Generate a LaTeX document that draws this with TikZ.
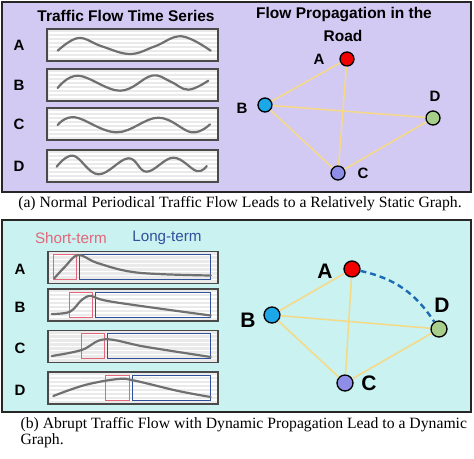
\documentclass[tikz,border=0pt]{standalone}
\usepackage{fontspec}
\setmainfont{Liberation Serif}
\setsansfont{Liberation Sans}
\usetikzlibrary{calc}
\definecolor{lav}{HTML}{D3CAF4}
\definecolor{aqua}{HTML}{CAF2F0}
\definecolor{frame}{HTML}{262626}
\definecolor{boxline}{HTML}{4A4A4A}
\definecolor{curve}{HTML}{707070}
\definecolor{stripe}{HTML}{EAEAEA}
\definecolor{edgey}{HTML}{F6D985}
\definecolor{nodeA}{HTML}{F20000}
\definecolor{nodeB}{HTML}{1CA7E8}
\definecolor{nodeC}{HTML}{8E8EE8}
\definecolor{nodeD}{HTML}{A7CF8B}
\definecolor{shortc}{HTML}{E3667A}
\definecolor{longc}{HTML}{30509C}
\definecolor{dynb}{HTML}{1D6BB4}
\begin{document}
\begin{tikzpicture}[x=1pt,y=-1pt,font=\sffamily,
  panel/.style={draw=frame,line width=1.8pt},
  series/.style={draw=boxline,line width=1.8pt,fill=stripe},
  wave/.style={curve,line width=2.2pt,line cap=round,line join=round},
  vtx/.style={circle,draw=black,line width=1.3pt,inner sep=0pt,minimum size=#1},
  lbl/.style={font=\sffamily\bfseries\fontsize{15}{15}\selectfont},
  big/.style={font=\sffamily\bfseries\fontsize{21}{21}\selectfont},
  head/.style={font=\sffamily\bfseries\fontsize{15.5}{17}\selectfont},
  link/.style={edgey,line width=1.5pt},
  captext/.style={font=\rmfamily\fontsize{15.7}{15.5}\selectfont}]
  \useasboundingbox (0,0) rectangle (474,458);
  % (a) static graph
  \draw[panel,fill=lav] (2,2) rectangle (471,192);
  \node[head] (ttl-a) at (126,16) {Traffic Flow Time Series};
  \node[head] (ttl-b) at (344,15) {Flow Propagation in the};
  \node[head] (ttl-c) at (343,36) {Road};
  \foreach \nm/\ty in {A/29,B/69,C/108,D/150} {
    \draw[series] (47,\ty) rectangle (218,\ty+32);
    \foreach \k in {4,8,...,28} \draw[white,line width=1.9pt] (48.5,\ty+\k) -- (216.5,\ty+\k);
    \node[lbl] (sa-\nm) at (19,\ty+16) {\nm};
  }
  \draw[wave] plot[smooth,tension=0.65] coordinates {(57.7,50.7) (78.3,38) (101.7,46.3) (130,54) (155,46.3) (181.7,36.3) (210.7,50.7)};
  \draw[wave] plot[smooth,tension=0.65] coordinates {(57.7,88) (78.3,75.7) (120,90.7) (151.7,75.7) (170,81.3) (188.3,89.7) (208.3,80.7)};
  \draw[wave] plot[smooth,tension=0.65] coordinates {(57.7,125) (75,117.3) (116.7,132.3) (158.3,117.7) (191.7,132.3) (210,124.3)};
  \draw[wave] plot[smooth,tension=0.65] coordinates {(56.7,166.7) (73.3,155.7) (98.3,174.3) (128.3,158.3) (146.7,171.7) (173.3,157.7) (196.7,171) (206.7,166)};
  \node[vtx=14pt,fill=nodeA] (a-A) at (347,59) {};
  \node[vtx=14pt,fill=nodeB] (a-B) at (265,105) {};
  \node[vtx=14pt,fill=nodeC] (a-C) at (338,173) {};
  \node[vtx=14pt,fill=nodeD] (a-D) at (433,118) {};
  \draw[link] (a-A) -- (a-B);
  \draw[link] (a-A) -- (a-C);
  \draw[link] (a-B) -- (a-C);
  \draw[link] (a-B) -- (a-D);
  \draw[link] (a-C) -- (a-D);
  \node[lbl] (la-A) at (319,59) {A};
  \node[lbl] (la-B) at (242,108) {B};
  \node[lbl] (la-C) at (363,173) {C};
  \node[lbl] (la-D) at (435,96) {D};
  \node[captext,anchor=base] (cap-a) at (240,207.5) {(a) Normal Periodical Traffic Flow Leads to a Relatively Static Graph.};
  % (b) dynamic graph
  \draw[panel,fill=aqua] (2,220) rectangle (471,412);
  \node[font=\sffamily\fontsize{15.2}{16}\selectfont,text=shortc] (st) at (71,238) {Short-term};
  \node[font=\sffamily\fontsize{15.2}{16}\selectfont,text=longc] (lt) at (167,238) {Long-term};
  \foreach \nm/\ty/\rx in {A/251.5/53.3,B/289/69.3,C/330.5/81,D/372/105.7} {
    \draw[series] (48,\ty) rectangle (218,\ty+32);
    \foreach \k in {4,8,...,28} \draw[white,line width=1.9pt] (49.5,\ty+\k) -- (216.5,\ty+\k);
    \draw[shortc,line width=1pt] (\rx,\ty+3) rectangle (\rx+23.3,\ty+28);
    \draw[longc,line width=1pt] (\rx+26.5,\ty+3) rectangle (210.7,\ty+28);
    \node[lbl] (sb-\nm) at (20,\ty+18) {\nm};
  }
  \draw[wave] plot[smooth,tension=0.6] coordinates {(54.3,278.3) (65,266.7) (78.3,255) (98.3,263.3) (138.3,272.7) (210.7,275.5)};
  \draw[wave] plot[smooth,tension=0.6] coordinates {(51.7,314) (70,311.7) (81.7,300) (91.7,296) (111.7,301.7) (210.7,315.5)};
  \draw[wave] plot[smooth,tension=0.6] coordinates {(51.7,356) (81.7,350) (105,339.3) (145,346.7) (210.7,357)};
  \draw[wave] plot[smooth,tension=0.6] coordinates {(53.3,396) (85,385) (118.3,379) (135,380.7) (178.3,391) (210.7,397)};
  \node[vtx=16pt,fill=nodeA] (b-A) at (352,269) {};
  \node[vtx=16pt,fill=nodeB] (b-B) at (272,315) {};
  \node[vtx=16pt,fill=nodeC] (b-C) at (345,383) {};
  \node[vtx=16pt,fill=nodeD] (b-D) at (439,329) {};
  \draw[link] (b-A) -- (b-B);
  \draw[link] (b-A) -- (b-C);
  \draw[link] (b-B) -- (b-C);
  \draw[link] (b-B) -- (b-D);
  \draw[link] (b-C) -- (b-D);
  \draw[dynb,line width=2.4pt,dash pattern=on 6pt off 4pt] (b-A) to[bend left=22] (b-D);
  \node[big] (lb-A) at (325,271) {A};
  \node[big] (lb-B) at (248,320) {B};
  \node[big] (lb-C) at (369,383) {C};
  \node[big] (lb-D) at (442,305) {D};
  \node[captext,anchor=base west] (cap-b1) at (17,428.5) {(b) Abrupt Traffic Flow with Dynamic Propagation Lead to a Dynamic};
  \node[captext,anchor=base west] (cap-b2) at (17,444) {Graph.};
\end{tikzpicture}
\end{document}
